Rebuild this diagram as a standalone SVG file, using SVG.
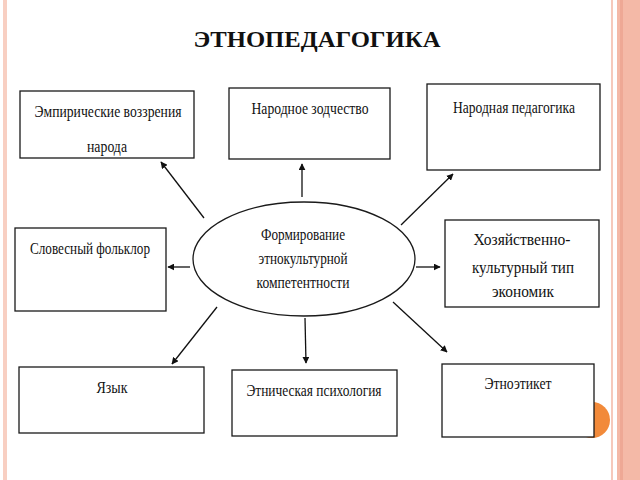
<svg xmlns="http://www.w3.org/2000/svg" width="640" height="480" viewBox="0 0 640 480">
<defs>
<style>
.box{fill:#fff;stroke:#1a1a1a;stroke-width:1.3}
.t{font-family:"Liberation Serif","DejaVu Serif",serif;font-size:17px;fill:#111;text-anchor:middle}
.c{stroke:#111;stroke-width:1.3;fill:none;marker-end:url(#ah)}
</style>
<marker id="ah" viewBox="0 0 10 10" refX="9" refY="5" markerWidth="7" markerHeight="7" markerUnits="userSpaceOnUse" orient="auto">
<path d="M0,0 L10,5 L0,10 z" fill="#111"/>
</marker>
</defs>
<rect width="640" height="480" fill="#fff"/>
<g id="frame">
<rect x="3" y="0" width="4" height="480" fill="#f8cfc2"/>
<rect x="611" y="0" width="2" height="480" fill="#f6c9bb"/>
<rect x="617" y="0" width="23" height="480" fill="#f4b9a7"/>
<rect x="620" y="0" width="3" height="480" fill="#eea895"/>
</g>
<text x="317" y="47" font-family="Liberation Serif, serif" font-size="23" font-weight="bold" text-anchor="middle" textLength="247" lengthAdjust="spacingAndGlyphs" fill="#111">ЭТНОПЕДАГОГИКА</text>
<circle cx="592" cy="420" r="18" fill="#f28a3a"/>
<g id="connectors">
<line class="c" x1="204" y1="218" x2="161" y2="162"/>
<line class="c" x1="302" y1="197" x2="302" y2="164"/>
<line class="c" x1="401" y1="225" x2="453" y2="174"/>
<line class="c" x1="190" y1="267" x2="168" y2="267"/>
<line class="c" x1="416" y1="267" x2="440" y2="267"/>
<line class="c" x1="217" y1="307" x2="172" y2="364"/>
<line class="c" x1="305" y1="318" x2="306" y2="363"/>
<line class="c" x1="393" y1="302" x2="447" y2="352"/>
</g>
<g id="center">
<ellipse cx="304" cy="259" rx="111" ry="57" class="box"/>
<text class="t" x="303" y="240" textLength="84" lengthAdjust="spacingAndGlyphs">Формирование</text>
<text class="t" x="303" y="264" textLength="89" lengthAdjust="spacingAndGlyphs">этнокультурной</text>
<text class="t" x="303" y="288" textLength="93" lengthAdjust="spacingAndGlyphs">компетентности</text>
</g>
<g id="n1">
<rect x="20" y="91" width="174" height="67" class="box"/>
<text class="t" x="108" y="117" textLength="147" lengthAdjust="spacingAndGlyphs">Эмпирические воззрения</text>
<text class="t" x="107" y="152" textLength="40" lengthAdjust="spacingAndGlyphs">народа</text>
</g>
<g id="n2">
<rect x="229" y="88" width="161" height="71" class="box"/>
<text class="t" x="310" y="114" textLength="117" lengthAdjust="spacingAndGlyphs">Народное зодчество</text>
</g>
<g id="n3">
<rect x="427" y="84" width="173" height="86" class="box"/>
<text class="t" x="514" y="113" textLength="122" lengthAdjust="spacingAndGlyphs">Народная педагогика</text>
</g>
<g id="n4">
<rect x="15" y="228" width="151" height="83" class="box"/>
<text class="t" x="90" y="254" textLength="120" lengthAdjust="spacingAndGlyphs">Словесный фольклор</text>
</g>
<g id="n5">
<rect x="445" y="220" width="154" height="87" class="box"/>
<text class="t" x="522" y="245" textLength="97" lengthAdjust="spacingAndGlyphs">Хозяйственно-</text>
<text class="t" x="523" y="273" textLength="102" lengthAdjust="spacingAndGlyphs">культурный тип</text>
<text class="t" x="523" y="297" textLength="62" lengthAdjust="spacingAndGlyphs">экономик</text>
</g>
<g id="n6">
<rect x="19" y="367" width="185" height="66" class="box"/>
<text class="t" x="112" y="393" textLength="31" lengthAdjust="spacingAndGlyphs">Язык</text>
</g>
<g id="n7">
<rect x="232" y="370" width="165" height="66" class="box"/>
<text class="t" x="314" y="396" textLength="135" lengthAdjust="spacingAndGlyphs">Этническая психология</text>
</g>
<g id="n8">
<rect x="442" y="364" width="152" height="73" class="box"/>
<text class="t" x="518" y="389" textLength="67" lengthAdjust="spacingAndGlyphs">Этноэтикет</text>
</g>
</svg>
